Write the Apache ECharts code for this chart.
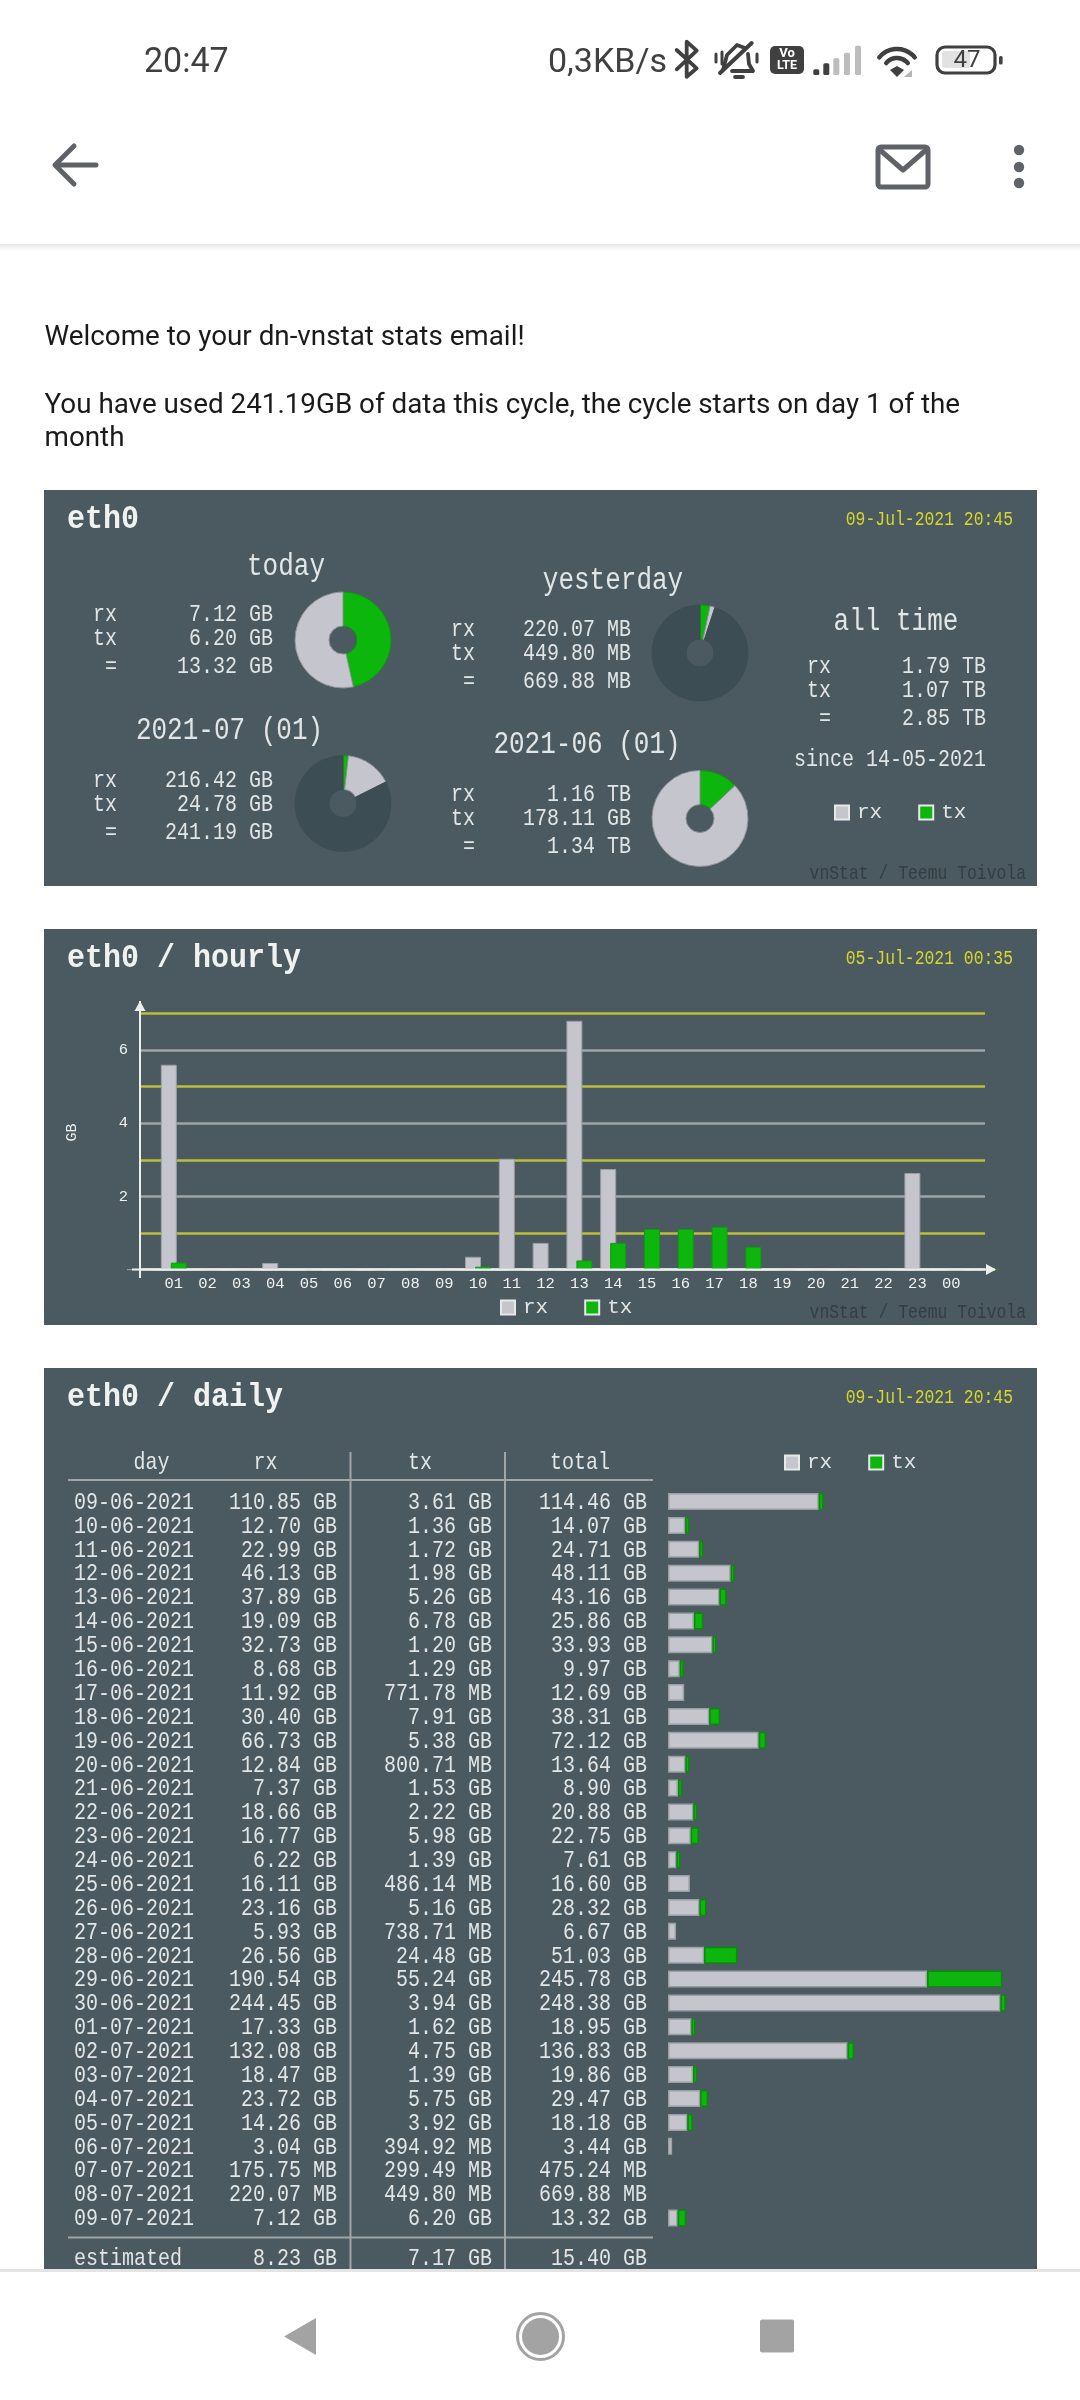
<!DOCTYPE html>
<html><head><meta charset="utf-8">
<style>html,body{margin:0;padding:0;background:#fff}#c{width:1080px;height:2400px}</style>
<script src="https://cdn.jsdelivr.net/npm/echarts@6/dist/echarts.min.js"></script>
</head><body><div id="c"></div>
<script>
// ---- hourly chart ----
const hours = ['', '01','02','03','04','05','06','07','08','09','10','11','12','13','14','15','16','17','18','19','20','21','22','23','00', ''];
const hourlyRx = [0, 5.6,0,0,0.18,0,0,0,0,0,0.35,3.03,0.73,6.8,2.75,0,0,0,0,0,0,0,0,2.64,0, 0];
const hourlyTx = [0, 0.19,0,0,0,0,0,0,0,0,0.08,0,0,0.25,0.73,1.11,1.11,1.17,0.62,0,0,0,0,0,0, 0];
// ---- daily table ----
const days = ['09-06-2021','10-06-2021','11-06-2021','12-06-2021','13-06-2021','14-06-2021','15-06-2021','16-06-2021','17-06-2021','18-06-2021','19-06-2021','20-06-2021','21-06-2021','22-06-2021','23-06-2021','24-06-2021','25-06-2021','26-06-2021','27-06-2021','28-06-2021','29-06-2021','30-06-2021','01-07-2021','02-07-2021','03-07-2021','04-07-2021','05-07-2021','06-07-2021','07-07-2021','08-07-2021','09-07-2021'];
const dailyRx = ['110.85 GB','12.70 GB','22.99 GB','46.13 GB','37.89 GB','19.09 GB','32.73 GB','8.68 GB','11.92 GB','30.40 GB','66.73 GB','12.84 GB','7.37 GB','18.66 GB','16.77 GB','6.22 GB','16.11 GB','23.16 GB','5.93 GB','26.56 GB','190.54 GB','244.45 GB','17.33 GB','132.08 GB','18.47 GB','23.72 GB','14.26 GB','3.04 GB','175.75 MB','220.07 MB','7.12 GB'];
const dailyTx = ['3.61 GB','1.36 GB','1.72 GB','1.98 GB','5.26 GB','6.78 GB','1.20 GB','1.29 GB','771.78 MB','7.91 GB','5.38 GB','800.71 MB','1.53 GB','2.22 GB','5.98 GB','1.39 GB','486.14 MB','5.16 GB','738.71 MB','24.48 GB','55.24 GB','3.94 GB','1.62 GB','4.75 GB','1.39 GB','5.75 GB','3.92 GB','394.92 MB','299.49 MB','449.80 MB','6.20 GB'];
const dailyTotal = ['114.46 GB','14.07 GB','24.71 GB','48.11 GB','43.16 GB','25.86 GB','33.93 GB','9.97 GB','12.69 GB','38.31 GB','72.12 GB','13.64 GB','8.90 GB','20.88 GB','22.75 GB','7.61 GB','16.60 GB','28.32 GB','6.67 GB','51.03 GB','245.78 GB','248.38 GB','18.95 GB','136.83 GB','19.86 GB','29.47 GB','18.18 GB','3.44 GB','475.24 MB','669.88 MB','13.32 GB'];
const estimated = ['estimated','8.23 GB','7.17 GB','15.40 GB'];
// ---- summary pies (tx, rx, unused remainder) in GB ----
const pieToday = [6.20, 7.12];
const pieYesterday = [0.4498, 0.2201, 12.65];
const pieJuly = [24.78, 216.42, 1130.8];
const pieJune = [178.11, 1193.9];

const C = {panel:'#4a5a60', dark:'#3c4d53', rx:'#c5c5cd', tx:'#0cb60c', text:'#e2e5e5', date:'#d6d62e', mark:'#323e43', icon:'#404040', grid:'#a0a5a7', yel:'#bebe38', axis:'#eceeee', nav:'#a3a3a3'};
const MONO = '"Liberation Mono"', SANS = 'Roboto';
const g = [];
function T(x,y,text,size,fill,align,opt){opt=opt||{};
  g.push({type:'text',x:x,y:y+(opt.family?0:1),scaleY:opt.sy===undefined?1.2:opt.sy,z:opt.z||5,silent:true,
    style:{text:text,font:(opt.weight||'normal')+' '+size+'px '+(opt.family||MONO),fill:fill||C.text,align:align||'left',verticalAlign:'middle'}});}
function R(x,y,w,h,fill,opt){opt=opt||{};g.push({type:'rect',z:opt.z===undefined?5:opt.z,silent:true,shape:{x:x,y:y,width:w,height:h,r:opt.r||0},style:{fill:fill,stroke:opt.stroke,lineWidth:opt.lw}});}
function L(x1,y1,x2,y2,color,lw,z){g.push({type:'line',z:z===undefined?3:z,silent:true,shape:{x1:x1,y1:y1,x2:x2,y2:y2},style:{stroke:color,lineWidth:lw||2}});}
function P(points,fill,z){g.push({type:'polygon',z:z===undefined?3:z,silent:true,shape:{points:points},style:{fill:fill}});}
function PL(points,color,lw,z){g.push({type:'polyline',z:z===undefined?20:z,silent:true,shape:{points:points},style:{stroke:color,lineWidth:lw,fill:'none',lineJoin:'round',lineCap:'round'}});}

// panels
R(44,490,993,396,C.panel,{z:-10});
R(44,929,993,396,C.panel,{z:-10});
R(44,1368,993,902,C.panel,{z:-10});
// panel headings
[[518.5,'eth0','09-Jul-2021 20:45'],[958,'eth0 / hourly','05-Jul-2021 00:35'],[1397,'eth0 / daily','09-Jul-2021 20:45']].forEach(function(h){
  T(67,h[0],h[1],30,'#f0f2f2','left',{weight:'bold',sy:1.1});
  T(1013,h[0],h[2],16.4,C.date,'right');
});
T(1026,872.5,'vnStat / Teemu Toivola',16.4,C.mark,'right');
T(1026,1311.5,'vnStat / Teemu Toivola',16.4,C.mark,'right');

// summary blocks
T(286,565.5,'today',26,C.text,'center');
T(613,580,'yesterday',26,C.text,'center');
T(229.5,730,'2021-07 (01)',26,C.text,'center');
T(587,744,'2021-06 (01)',26,C.text,'center');
T(896,621,'all time',26,C.text,'center');
function block(lx,vx,y0,vals){
  [0,24,52].forEach(function(dy,i){
    T(lx,y0+dy,['rx','tx','='][i],20,C.text,'right');
    T(vx,y0+dy,vals[i],20,C.text,'right');
  });
}
block(117,273,614,['7.12 GB','6.20 GB','13.32 GB']);
block(475,631,628.5,['220.07 MB','449.80 MB','669.88 MB']);
block(117,273,780,['216.42 GB','24.78 GB','241.19 GB']);
block(475,631,794,['1.16 TB','178.11 GB','1.34 TB']);
block(831,986,666,['1.79 TB','1.07 TB','2.85 TB']);
T(986,758.5,'since 14-05-2021',20,C.text,'right');

// hourly axis extensions and arrows
L(140,1001,140,1278,C.axis,2,3);
L(132,1269.6,995,1269.6,C.axis,2,3);
P([[140,1001],[134.5,1011],[145.5,1011]],C.axis);
P([[996,1269.6],[986,1264],[986,1275]],C.axis);

// daily table
const rowH = 23.88, rowY0 = 1501.5, rowX = 74;
T(151.5,1462,'day',20,C.text,'center');
T(265.5,1462,'rx',20,C.text,'center');
T(420,1462,'tx',20,C.text,'center');
T(580,1462,'total',20,C.text,'center');
days.forEach(function(d,i){
  const y = rowY0 + i*rowH;
  T(rowX,y,d,20);
  T(337,y,dailyRx[i],20,C.text,'right');
  T(492,y,dailyTx[i],20,C.text,'right');
  T(647,y,dailyTotal[i],20,C.text,'right');
});
T(rowX,2257.5,estimated[0],20);
T(337,2257.5,estimated[1],20,C.text,'right');
T(492,2257.5,estimated[2],20,C.text,'right');
T(647,2257.5,estimated[3],20,C.text,'right');
L(68,1480,653,1480,C.grid,2);
L(68,2237.5,653,2237.5,C.grid,2);
L(350.5,1452,350.5,2270,C.grid,2);
L(505,1452,505,2270,C.grid,2);

// page chrome
T(44.5,338,'Welcome to your dn-vnstat stats email!',27.8,'#1a1a1a','left',{sy:1,family:SANS});
T(44.5,406,'You have used 241.19GB of data this cycle, the cycle starts on day 1 of the',27.8,'#1a1a1a','left',{sy:1,family:SANS});
T(44.5,439,'month',27.8,'#1a1a1a','left',{sy:1,family:SANS});
g.push({type:'rect',z:1,silent:true,shape:{x:0,y:244,width:1080,height:7},style:{fill:{type:'linear',x:0,y:0,x2:0,y2:1,colorStops:[{offset:0,color:'#e6e7e8'},{offset:1,color:'#ffffff'}]}}});
// status bar
T(144,63,'20:47',34,C.icon,'left',{sy:1.05,family:SANS,z:20});
T(667,63,'0,3KB/s',34,C.icon,'right',{sy:1,family:SANS,z:20});
PL([[676.7,50],[696.7,68.3],[686.7,76.7],[686.7,41.7],[696.7,50.7],[676.7,69.3]],C.icon,3.8);
PL([[720,73],[751.7,43]],C.icon,4);
PL([[723,70],[727,55],[737,45],[745,48]],C.icon,3.8);
PL([[748,54],[749,64],[753,71],[732,71]],C.icon,3.8);
PL([[735,77],[743,77]],C.icon,3.8);
PL([[716,54],[716,62]],C.icon,3);PL([[722,52],[722,64]],C.icon,3);PL([[757,54],[757,62]],C.icon,3);
R(770,46,34,28,C.icon,{r:5,z:20});
T(787,54,'Vo',13,'#ffffff','center',{sy:1,family:SANS,weight:'bold',z:21});
T(787,66,'LTE',12.5,'#ffffff','center',{sy:1,family:SANS,weight:'bold',z:21});
[[813.3,69.3,C.icon],[823.3,63.3,C.icon],[833.3,58.3,'#bdbdbd'],[844,52.7,'#bdbdbd'],[855,45.7,'#bdbdbd']].forEach(function(b){R(b[0],b[1],6,75-b[1],b[2],{r:1.5,z:20});});
[[23,4.5],[14,4.5]].forEach(function(a){g.push({type:'arc',z:20,silent:true,shape:{cx:897,cy:72,r:a[0],startAngle:-Math.PI*0.78,endAngle:-Math.PI*0.22},style:{stroke:C.icon,lineWidth:a[1],fill:'none',lineCap:'round'}});});
P([[897,77],[890,70],[897,66],[904,70]],C.icon,20);
P([[904,77],[912,70],[912,77]],'#b5b5b5',20);
R(942,51,28,17,'#e2e2e2',{z:20,r:2});
R(937,47,58,26,'none',{z:21,r:8,stroke:C.icon,lw:3.2});
T(967,61,'47',24,C.icon,'center',{sy:1,family:SANS,z:22});
R(999,56,3.6,8.5,C.icon,{r:1.5,z:20});
// app bar
PL([[96,165],[56,165]],'#5f6368',5);PL([[74,146],[55,165],[74,184]],'#5f6368',5);
R(878,147,50,40,'none',{stroke:'#5f6368',lw:5,r:3,z:20});
PL([[880,150],[903,170],[926,150]],'#5f6368',5);
[150,167,183].forEach(function(y){g.push({type:'circle',z:20,silent:true,shape:{cx:1019,cy:y,r:5.2},style:{fill:'#5f6368'}});});
// bottom nav
R(0,2269,1080,131,'#ffffff',{z:30});
R(0,2269,1080,3,'#e4e4e4',{z:31});
P([[316,2318],[284,2336.5],[316,2355]],C.nav,31);
g.push({type:'circle',z:31,silent:true,shape:{cx:540.5,cy:2336.5,r:23},style:{fill:'#fff',stroke:C.nav,lineWidth:3}});
g.push({type:'circle',z:31,silent:true,shape:{cx:540.5,cy:2336.5,r:18.5},style:{fill:C.nav}});
R(760,2319.5,34,33,C.nav,{r:2,z:31});

// chart helpers
const toGB = function(s){return parseFloat(s)*(/MB$/.test(s)?1/1024:1);};
const visible = function(v){return v<0.77?'-':v;};
const pieCentres = [[343,640],[700,653],[343,803.5],[700,818.5]];
function pie(c,values){
  const names=['tx','rx','rest'], colors=[C.tx,C.rx,C.dark], borders=['#0a9a0a','#8c9296',C.dark];
  return {type:'pie',silent:true,animation:false,center:c,radius:[14,48],startAngle:90,clockwise:true,minAngle:0,
    label:{show:false},labelLine:{show:false},legendHoverLink:false,
    data:values.map(function(v,i){return {name:names[i],value:v,itemStyle:{color:colors[i],borderColor:borders[i],borderWidth:1}};})};
}
const legendBase = {orient:'horizontal',icon:'rect',itemWidth:14,itemHeight:14,itemGap:36,selectedMode:false,data:['rx','tx'],padding:0,
  textStyle:{color:C.text,fontFamily:MONO,fontSize:21,padding:[0,0,0,3]},itemStyle:{borderColor:'#e8e8e8',borderWidth:2}};

const chart = echarts.init(document.getElementById('c'),null,{width:1080,height:2400});
chart.setOption({
  animation:false,
  backgroundColor:'#ffffff',
  legend:[
    Object.assign({},legendBase,{left:834,top:802}),
    Object.assign({},legendBase,{left:500,top:1297}),
    Object.assign({},legendBase,{left:784,top:1452})
  ],
  grid:[
    {left:140,top:1013.5,width:845,height:256.1},
    {left:668,top:1489.56,width:340,height:740.28}
  ],
  xAxis:[
    {gridIndex:0,type:'category',data:hours,boundaryGap:false,
      axisLine:{show:false},axisTick:{show:false},splitLine:{show:false},
      axisLabel:{interval:0,margin:6,color:'#f0f2f2',fontFamily:MONO,fontSize:15.5}},
    {gridIndex:1,type:'value',min:0,max:250,show:false}
  ],
  yAxis:[
    {gridIndex:0,type:'value',min:0,max:7,interval:1,
      name:'GB',nameLocation:'middle',nameRotate:90,nameGap:60,
      nameTextStyle:{color:'#f0f2f2',fontFamily:MONO,fontSize:15,padding:[0,0,0,18]},
      axisLine:{show:false},axisTick:{show:false},
      axisLabel:{margin:12,color:'#f0f2f2',fontFamily:MONO,fontSize:15.5,formatter:function(v){return v>0&&v%2===0?String(v):'';}},
      splitLine:{show:true,lineStyle:{color:[C.axis,C.yel,C.grid,C.yel,C.grid,C.yel,C.grid,C.yel],width:2.6}}},
    {gridIndex:1,type:'category',data:days,inverse:true,show:false}
  ],
  series:[
    {name:'rx',type:'bar',xAxisIndex:0,yAxisIndex:0,data:hourlyRx,barWidth:16,barGap:'-37.5%',
      itemStyle:{color:C.rx,borderColor:'#9a9fa3',borderWidth:1}},
    {name:'tx',type:'bar',xAxisIndex:0,yAxisIndex:0,data:hourlyTx,barWidth:16,barGap:'-37.5%',
      itemStyle:{color:C.tx,borderColor:'#0c9c0c',borderWidth:1}},
    {name:'rx',type:'bar',xAxisIndex:1,yAxisIndex:1,stack:'day',barWidth:17,data:dailyRx.map(toGB).map(visible),
      itemStyle:{color:C.rx,borderColor:'#9a9fa3',borderWidth:1.5}},
    {name:'tx',type:'bar',xAxisIndex:1,yAxisIndex:1,stack:'day',barWidth:17,barMinHeight:4,data:dailyTx.map(toGB).map(visible),
      itemStyle:{color:C.tx,borderColor:'#0a8c0a',borderWidth:1.5}},
    pie(pieCentres[0],pieToday),
    pie(pieCentres[1],pieYesterday),
    pie(pieCentres[2],pieJuly),
    pie(pieCentres[3],pieJune)
  ],
  graphic:{elements:g}
});
</script></body></html>
